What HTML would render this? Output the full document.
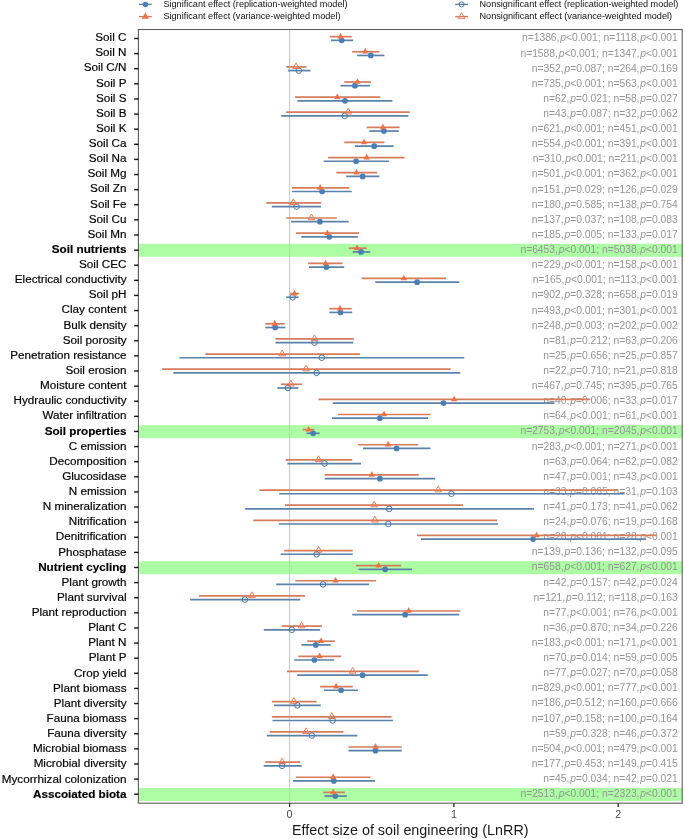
<!DOCTYPE html><html><head><meta charset="utf-8"><title>Forest plot</title><style>html,body{margin:0;padding:0;background:#fff;}svg{display:block;}text{font-family:"Liberation Sans",Arial,sans-serif;}</style></head><body>
<svg width="685" height="839" viewBox="0 0 685 839">
<rect x="0" y="0" width="685" height="839" fill="#fff"/>
<line x1="139.0" y1="4.4" x2="151.8" y2="4.4" stroke="#5A82AA" stroke-width="1.40"/><circle cx="145.4" cy="4.4" r="2.75" fill="#4A7FB6"/>
<line x1="139.0" y1="16.6" x2="151.8" y2="16.6" stroke="#D67C5C" stroke-width="1.40"/><polygon points="145.40,12.50 148.95,18.65 141.85,18.65" fill="#EC7347"/>
<line x1="455.2" y1="4.4" x2="468.0" y2="4.4" stroke="#5A82AA" stroke-width="1.40"/><circle cx="461.6" cy="4.4" r="2.50" fill="none" stroke="#4576A8" stroke-width="0.95"/>
<line x1="455.2" y1="16.6" x2="468.0" y2="16.6" stroke="#D67C5C" stroke-width="1.40"/><polygon points="461.60,12.70 464.98,18.55 458.22,18.55" fill="none" stroke="#EC7347" stroke-width="0.85"/>
<text x="163.4" y="6.8" textLength="184.2" font-size="9.45px" fill="#111111" lengthAdjust="spacingAndGlyphs">Significant effect (replication-weighted model)</text>
<text x="163.4" y="18.8" textLength="177.1" font-size="9.45px" fill="#111111" lengthAdjust="spacingAndGlyphs">Significant effect (variance-weighted model)</text>
<text x="479.5" y="6.8" textLength="198.9" font-size="9.45px" fill="#111111" lengthAdjust="spacingAndGlyphs">Nonsignificant effect (replication-weighted model)</text>
<text x="479.5" y="18.8" textLength="192.6" font-size="9.45px" fill="#111111" lengthAdjust="spacingAndGlyphs">Nonsignificant effect (variance-weighted model)</text>
<rect x="138.4" y="243.80" width="543.8" height="13.00" fill="#ADFDA5"/>
<rect x="138.4" y="425.16" width="543.8" height="13.00" fill="#ADFDA5"/>
<rect x="138.4" y="561.19" width="543.8" height="13.00" fill="#ADFDA5"/>
<rect x="138.4" y="787.90" width="543.8" height="13.00" fill="#ADFDA5"/>
<line x1="289.6" y1="29.5" x2="289.6" y2="803.2" stroke="#C6C6C6" stroke-width="1"/>
<text x="677.8" y="41.45" text-anchor="end" font-size="10.30px" fill="#959595">n=1386,<tspan dx="0.8" font-style="italic">p</tspan>&lt;0.001; n=1118,<tspan dx="0.8" font-style="italic">p</tspan>&lt;0.001</text>
<text x="677.8" y="56.56" text-anchor="end" font-size="10.30px" fill="#959595">n=1588,<tspan dx="0.8" font-style="italic">p</tspan>&lt;0.001; n=1347,<tspan dx="0.8" font-style="italic">p</tspan>&lt;0.001</text>
<text x="677.8" y="71.68" text-anchor="end" font-size="10.30px" fill="#959595">n=352,<tspan dx="0.8" font-style="italic">p</tspan>=0.087; n=264,<tspan dx="0.8" font-style="italic">p</tspan>=0.169</text>
<text x="677.8" y="86.79" text-anchor="end" font-size="10.30px" fill="#959595">n=735,<tspan dx="0.8" font-style="italic">p</tspan>&lt;0.001; n=563,<tspan dx="0.8" font-style="italic">p</tspan>&lt;0.001</text>
<text x="677.8" y="101.91" text-anchor="end" font-size="10.30px" fill="#959595">n=62,<tspan dx="0.8" font-style="italic">p</tspan>=0.021; n=58,<tspan dx="0.8" font-style="italic">p</tspan>=0.027</text>
<text x="677.8" y="117.02" text-anchor="end" font-size="10.30px" fill="#959595">n=43,<tspan dx="0.8" font-style="italic">p</tspan>=0.087; n=32,<tspan dx="0.8" font-style="italic">p</tspan>=0.062</text>
<text x="677.8" y="132.13" text-anchor="end" font-size="10.30px" fill="#959595">n=621,<tspan dx="0.8" font-style="italic">p</tspan>&lt;0.001; n=451,<tspan dx="0.8" font-style="italic">p</tspan>&lt;0.001</text>
<text x="677.8" y="147.25" text-anchor="end" font-size="10.30px" fill="#959595">n=554,<tspan dx="0.8" font-style="italic">p</tspan>&lt;0.001; n=391,<tspan dx="0.8" font-style="italic">p</tspan>&lt;0.001</text>
<text x="677.8" y="162.36" text-anchor="end" font-size="10.30px" fill="#959595">n=310,<tspan dx="0.8" font-style="italic">p</tspan>&lt;0.001; n=211,<tspan dx="0.8" font-style="italic">p</tspan>&lt;0.001</text>
<text x="677.8" y="177.48" text-anchor="end" font-size="10.30px" fill="#959595">n=501,<tspan dx="0.8" font-style="italic">p</tspan>&lt;0.001; n=362,<tspan dx="0.8" font-style="italic">p</tspan>&lt;0.001</text>
<text x="677.8" y="192.59" text-anchor="end" font-size="10.30px" fill="#959595">n=151,<tspan dx="0.8" font-style="italic">p</tspan>=0.029; n=126,<tspan dx="0.8" font-style="italic">p</tspan>=0.029</text>
<text x="677.8" y="207.70" text-anchor="end" font-size="10.30px" fill="#959595">n=180,<tspan dx="0.8" font-style="italic">p</tspan>=0.585; n=138,<tspan dx="0.8" font-style="italic">p</tspan>=0.754</text>
<text x="677.8" y="222.82" text-anchor="end" font-size="10.30px" fill="#959595">n=137,<tspan dx="0.8" font-style="italic">p</tspan>=0.037; n=108,<tspan dx="0.8" font-style="italic">p</tspan>=0.083</text>
<text x="677.8" y="237.93" text-anchor="end" font-size="10.30px" fill="#959595">n=185,<tspan dx="0.8" font-style="italic">p</tspan>=0.005; n=133,<tspan dx="0.8" font-style="italic">p</tspan>=0.017</text>
<text x="677.8" y="253.05" text-anchor="end" font-size="10.30px" fill="#959595">n=6453,<tspan dx="0.8" font-style="italic">p</tspan>&lt;0.001; n=5038,<tspan dx="0.8" font-style="italic">p</tspan>&lt;0.001</text>
<text x="677.8" y="268.16" text-anchor="end" font-size="10.30px" fill="#959595">n=229,<tspan dx="0.8" font-style="italic">p</tspan>&lt;0.001; n=158,<tspan dx="0.8" font-style="italic">p</tspan>&lt;0.001</text>
<text x="677.8" y="283.27" text-anchor="end" font-size="10.30px" fill="#959595">n=165,<tspan dx="0.8" font-style="italic">p</tspan>&lt;0.001; n=113,<tspan dx="0.8" font-style="italic">p</tspan>&lt;0.001</text>
<text x="677.8" y="298.39" text-anchor="end" font-size="10.30px" fill="#959595">n=902,<tspan dx="0.8" font-style="italic">p</tspan>=0.328; n=658,<tspan dx="0.8" font-style="italic">p</tspan>=0.019</text>
<text x="677.8" y="313.50" text-anchor="end" font-size="10.30px" fill="#959595">n=493,<tspan dx="0.8" font-style="italic">p</tspan>&lt;0.001; n=301,<tspan dx="0.8" font-style="italic">p</tspan>&lt;0.001</text>
<text x="677.8" y="328.62" text-anchor="end" font-size="10.30px" fill="#959595">n=248,<tspan dx="0.8" font-style="italic">p</tspan>=0.003; n=202,<tspan dx="0.8" font-style="italic">p</tspan>=0.002</text>
<text x="677.8" y="343.73" text-anchor="end" font-size="10.30px" fill="#959595">n=81,<tspan dx="0.8" font-style="italic">p</tspan>=0.212; n=63,<tspan dx="0.8" font-style="italic">p</tspan>=0.206</text>
<text x="677.8" y="358.84" text-anchor="end" font-size="10.30px" fill="#959595">n=25,<tspan dx="0.8" font-style="italic">p</tspan>=0.656; n=25,<tspan dx="0.8" font-style="italic">p</tspan>=0.857</text>
<text x="677.8" y="373.96" text-anchor="end" font-size="10.30px" fill="#959595">n=22,<tspan dx="0.8" font-style="italic">p</tspan>=0.710; n=21,<tspan dx="0.8" font-style="italic">p</tspan>=0.818</text>
<text x="677.8" y="389.07" text-anchor="end" font-size="10.30px" fill="#959595">n=467,<tspan dx="0.8" font-style="italic">p</tspan>=0.745; n=395,<tspan dx="0.8" font-style="italic">p</tspan>=0.765</text>
<text x="677.8" y="404.19" text-anchor="end" font-size="10.30px" fill="#959595">n=40,<tspan dx="0.8" font-style="italic">p</tspan>=0.006; n=33,<tspan dx="0.8" font-style="italic">p</tspan>=0.017</text>
<text x="677.8" y="419.30" text-anchor="end" font-size="10.30px" fill="#959595">n=64,<tspan dx="0.8" font-style="italic">p</tspan>&lt;0.001; n=61,<tspan dx="0.8" font-style="italic">p</tspan>&lt;0.001</text>
<text x="677.8" y="434.41" text-anchor="end" font-size="10.30px" fill="#959595">n=2753,<tspan dx="0.8" font-style="italic">p</tspan>&lt;0.001; n=2045,<tspan dx="0.8" font-style="italic">p</tspan>&lt;0.001</text>
<text x="677.8" y="449.53" text-anchor="end" font-size="10.30px" fill="#959595">n=283,<tspan dx="0.8" font-style="italic">p</tspan>&lt;0.001; n=271,<tspan dx="0.8" font-style="italic">p</tspan>&lt;0.001</text>
<text x="677.8" y="464.64" text-anchor="end" font-size="10.30px" fill="#959595">n=63,<tspan dx="0.8" font-style="italic">p</tspan>=0.064; n=62,<tspan dx="0.8" font-style="italic">p</tspan>=0.082</text>
<text x="677.8" y="479.76" text-anchor="end" font-size="10.30px" fill="#959595">n=47,<tspan dx="0.8" font-style="italic">p</tspan>=0.001; n=43,<tspan dx="0.8" font-style="italic">p</tspan>&lt;0.001</text>
<text x="677.8" y="494.87" text-anchor="end" font-size="10.30px" fill="#959595">n=33,<tspan dx="0.8" font-style="italic">p</tspan>=0.065; n=31,<tspan dx="0.8" font-style="italic">p</tspan>=0.103</text>
<text x="677.8" y="509.98" text-anchor="end" font-size="10.30px" fill="#959595">n=41,<tspan dx="0.8" font-style="italic">p</tspan>=0.173; n=41,<tspan dx="0.8" font-style="italic">p</tspan>=0.062</text>
<text x="677.8" y="525.10" text-anchor="end" font-size="10.30px" fill="#959595">n=24,<tspan dx="0.8" font-style="italic">p</tspan>=0.076; n=19,<tspan dx="0.8" font-style="italic">p</tspan>=0.168</text>
<text x="677.8" y="540.21" text-anchor="end" font-size="10.30px" fill="#959595">n=28,<tspan dx="0.8" font-style="italic">p</tspan>&lt;0.001; n=28,<tspan dx="0.8" font-style="italic">p</tspan>&lt;0.001</text>
<text x="677.8" y="555.33" text-anchor="end" font-size="10.30px" fill="#959595">n=139,<tspan dx="0.8" font-style="italic">p</tspan>=0.136; n=132,<tspan dx="0.8" font-style="italic">p</tspan>=0.095</text>
<text x="677.8" y="570.44" text-anchor="end" font-size="10.30px" fill="#959595">n=658,<tspan dx="0.8" font-style="italic">p</tspan>&lt;0.001; n=627,<tspan dx="0.8" font-style="italic">p</tspan>&lt;0.001</text>
<text x="677.8" y="585.55" text-anchor="end" font-size="10.30px" fill="#959595">n=42,<tspan dx="0.8" font-style="italic">p</tspan>=0.157; n=42,<tspan dx="0.8" font-style="italic">p</tspan>=0.024</text>
<text x="677.8" y="600.67" text-anchor="end" font-size="10.30px" fill="#959595">n=121,<tspan dx="0.8" font-style="italic">p</tspan>=0.112; n=118,<tspan dx="0.8" font-style="italic">p</tspan>=0.163</text>
<text x="677.8" y="615.78" text-anchor="end" font-size="10.30px" fill="#959595">n=77,<tspan dx="0.8" font-style="italic">p</tspan>&lt;0.001; n=76,<tspan dx="0.8" font-style="italic">p</tspan>&lt;0.001</text>
<text x="677.8" y="630.90" text-anchor="end" font-size="10.30px" fill="#959595">n=36,<tspan dx="0.8" font-style="italic">p</tspan>=0.870; n=34,<tspan dx="0.8" font-style="italic">p</tspan>=0.226</text>
<text x="677.8" y="646.01" text-anchor="end" font-size="10.30px" fill="#959595">n=183,<tspan dx="0.8" font-style="italic">p</tspan>&lt;0.001; n=171,<tspan dx="0.8" font-style="italic">p</tspan>&lt;0.001</text>
<text x="677.8" y="661.12" text-anchor="end" font-size="10.30px" fill="#959595">n=70,<tspan dx="0.8" font-style="italic">p</tspan>=0.014; n=59,<tspan dx="0.8" font-style="italic">p</tspan>=0.005</text>
<text x="677.8" y="676.24" text-anchor="end" font-size="10.30px" fill="#959595">n=77,<tspan dx="0.8" font-style="italic">p</tspan>=0.027; n=70,<tspan dx="0.8" font-style="italic">p</tspan>=0.058</text>
<text x="677.8" y="691.35" text-anchor="end" font-size="10.30px" fill="#959595">n=829,<tspan dx="0.8" font-style="italic">p</tspan>&lt;0.001; n=777,<tspan dx="0.8" font-style="italic">p</tspan>&lt;0.001</text>
<text x="677.8" y="706.47" text-anchor="end" font-size="10.30px" fill="#959595">n=186,<tspan dx="0.8" font-style="italic">p</tspan>=0.512; n=160,<tspan dx="0.8" font-style="italic">p</tspan>=0.666</text>
<text x="677.8" y="721.58" text-anchor="end" font-size="10.30px" fill="#959595">n=107,<tspan dx="0.8" font-style="italic">p</tspan>=0.158; n=100,<tspan dx="0.8" font-style="italic">p</tspan>=0.164</text>
<text x="677.8" y="736.69" text-anchor="end" font-size="10.30px" fill="#959595">n=59,<tspan dx="0.8" font-style="italic">p</tspan>=0.328; n=46,<tspan dx="0.8" font-style="italic">p</tspan>=0.372</text>
<text x="677.8" y="751.81" text-anchor="end" font-size="10.30px" fill="#959595">n=504,<tspan dx="0.8" font-style="italic">p</tspan>&lt;0.001; n=479,<tspan dx="0.8" font-style="italic">p</tspan>&lt;0.001</text>
<text x="677.8" y="766.92" text-anchor="end" font-size="10.30px" fill="#959595">n=177,<tspan dx="0.8" font-style="italic">p</tspan>=0.453; n=149,<tspan dx="0.8" font-style="italic">p</tspan>=0.415</text>
<text x="677.8" y="782.04" text-anchor="end" font-size="10.30px" fill="#959595">n=45,<tspan dx="0.8" font-style="italic">p</tspan>=0.034; n=42,<tspan dx="0.8" font-style="italic">p</tspan>=0.021</text>
<text x="677.8" y="797.15" text-anchor="end" font-size="10.30px" fill="#959595">n=2513,<tspan dx="0.8" font-style="italic">p</tspan>&lt;0.001; n=2323,<tspan dx="0.8" font-style="italic">p</tspan>&lt;0.001</text>
<line x1="331.0" y1="40.35" x2="353.2" y2="40.35" stroke="#5A82AA" stroke-width="1.70"/>
<line x1="357.1" y1="55.46" x2="384.4" y2="55.46" stroke="#5A82AA" stroke-width="1.70"/>
<line x1="287.9" y1="70.58" x2="310.5" y2="70.58" stroke="#5A82AA" stroke-width="1.70"/>
<line x1="340.5" y1="85.69" x2="370.0" y2="85.69" stroke="#5A82AA" stroke-width="1.70"/>
<line x1="297.6" y1="100.81" x2="392.4" y2="100.81" stroke="#5A82AA" stroke-width="1.70"/>
<line x1="281.2" y1="115.92" x2="408.4" y2="115.92" stroke="#5A82AA" stroke-width="1.70"/>
<line x1="369.3" y1="131.03" x2="398.8" y2="131.03" stroke="#5A82AA" stroke-width="1.70"/>
<line x1="354.9" y1="146.15" x2="393.6" y2="146.15" stroke="#5A82AA" stroke-width="1.70"/>
<line x1="323.6" y1="161.26" x2="388.9" y2="161.26" stroke="#5A82AA" stroke-width="1.70"/>
<line x1="346.2" y1="176.38" x2="379.5" y2="176.38" stroke="#5A82AA" stroke-width="1.70"/>
<line x1="292.1" y1="191.49" x2="351.7" y2="191.49" stroke="#5A82AA" stroke-width="1.70"/>
<line x1="271.8" y1="206.60" x2="321.1" y2="206.60" stroke="#5A82AA" stroke-width="1.70"/>
<line x1="291.1" y1="221.72" x2="348.7" y2="221.72" stroke="#5A82AA" stroke-width="1.70"/>
<line x1="301.3" y1="236.83" x2="357.9" y2="236.83" stroke="#5A82AA" stroke-width="1.70"/>
<line x1="352.9" y1="251.95" x2="370.3" y2="251.95" stroke="#5A82AA" stroke-width="1.70"/>
<line x1="309.0" y1="267.06" x2="344.2" y2="267.06" stroke="#5A82AA" stroke-width="1.70"/>
<line x1="375.2" y1="282.17" x2="459.3" y2="282.17" stroke="#5A82AA" stroke-width="1.70"/>
<line x1="286.2" y1="297.29" x2="298.6" y2="297.29" stroke="#5A82AA" stroke-width="1.70"/>
<line x1="329.3" y1="312.40" x2="352.2" y2="312.40" stroke="#5A82AA" stroke-width="1.70"/>
<line x1="265.3" y1="327.52" x2="285.4" y2="327.52" stroke="#5A82AA" stroke-width="1.70"/>
<line x1="275.5" y1="342.63" x2="353.3" y2="342.63" stroke="#5A82AA" stroke-width="1.70"/>
<line x1="179.4" y1="357.74" x2="464.2" y2="357.74" stroke="#5A82AA" stroke-width="1.70"/>
<line x1="173.4" y1="372.86" x2="460.3" y2="372.86" stroke="#5A82AA" stroke-width="1.70"/>
<line x1="277.3" y1="387.97" x2="298.4" y2="387.97" stroke="#5A82AA" stroke-width="1.70"/>
<line x1="332.8" y1="403.09" x2="554.5" y2="403.09" stroke="#5A82AA" stroke-width="1.70"/>
<line x1="332.1" y1="418.20" x2="428.0" y2="418.20" stroke="#5A82AA" stroke-width="1.70"/>
<line x1="306.6" y1="433.31" x2="319.7" y2="433.31" stroke="#5A82AA" stroke-width="1.70"/>
<line x1="363.0" y1="448.43" x2="430.4" y2="448.43" stroke="#5A82AA" stroke-width="1.70"/>
<line x1="287.4" y1="463.54" x2="361.0" y2="463.54" stroke="#5A82AA" stroke-width="1.70"/>
<line x1="324.7" y1="478.66" x2="435.1" y2="478.66" stroke="#5A82AA" stroke-width="1.70"/>
<line x1="279.2" y1="493.77" x2="624.5" y2="493.77" stroke="#5A82AA" stroke-width="1.70"/>
<line x1="245.2" y1="508.88" x2="534.0" y2="508.88" stroke="#5A82AA" stroke-width="1.70"/>
<line x1="278.9" y1="524.00" x2="498.0" y2="524.00" stroke="#5A82AA" stroke-width="1.70"/>
<line x1="420.9" y1="539.11" x2="646.0" y2="539.11" stroke="#5A82AA" stroke-width="1.70"/>
<line x1="280.7" y1="554.23" x2="352.8" y2="554.23" stroke="#5A82AA" stroke-width="1.70"/>
<line x1="358.6" y1="569.34" x2="412.0" y2="569.34" stroke="#5A82AA" stroke-width="1.70"/>
<line x1="276.3" y1="584.45" x2="369.1" y2="584.45" stroke="#5A82AA" stroke-width="1.70"/>
<line x1="190.1" y1="599.57" x2="300.3" y2="599.57" stroke="#5A82AA" stroke-width="1.70"/>
<line x1="352.3" y1="614.68" x2="459.2" y2="614.68" stroke="#5A82AA" stroke-width="1.70"/>
<line x1="263.8" y1="629.80" x2="320.1" y2="629.80" stroke="#5A82AA" stroke-width="1.70"/>
<line x1="301.5" y1="644.91" x2="330.7" y2="644.91" stroke="#5A82AA" stroke-width="1.70"/>
<line x1="294.2" y1="660.02" x2="334.2" y2="660.02" stroke="#5A82AA" stroke-width="1.70"/>
<line x1="297.2" y1="675.14" x2="427.7" y2="675.14" stroke="#5A82AA" stroke-width="1.70"/>
<line x1="323.9" y1="690.25" x2="358.0" y2="690.25" stroke="#5A82AA" stroke-width="1.70"/>
<line x1="273.9" y1="705.37" x2="320.7" y2="705.37" stroke="#5A82AA" stroke-width="1.70"/>
<line x1="272.5" y1="720.48" x2="393.1" y2="720.48" stroke="#5A82AA" stroke-width="1.70"/>
<line x1="266.9" y1="735.59" x2="357.4" y2="735.59" stroke="#5A82AA" stroke-width="1.70"/>
<line x1="348.4" y1="750.71" x2="401.8" y2="750.71" stroke="#5A82AA" stroke-width="1.70"/>
<line x1="263.7" y1="765.82" x2="301.7" y2="765.82" stroke="#5A82AA" stroke-width="1.70"/>
<line x1="292.9" y1="780.94" x2="375.0" y2="780.94" stroke="#5A82AA" stroke-width="1.70"/>
<line x1="324.5" y1="796.05" x2="346.9" y2="796.05" stroke="#5A82AA" stroke-width="1.70"/>
<line x1="329.8" y1="36.65" x2="351.7" y2="36.65" stroke="#D67C5C" stroke-width="1.70"/>
<line x1="352.2" y1="51.76" x2="379.5" y2="51.76" stroke="#D67C5C" stroke-width="1.70"/>
<line x1="286.2" y1="66.88" x2="306.5" y2="66.88" stroke="#D67C5C" stroke-width="1.70"/>
<line x1="344.2" y1="81.99" x2="371.0" y2="81.99" stroke="#D67C5C" stroke-width="1.70"/>
<line x1="295.1" y1="97.11" x2="380.4" y2="97.11" stroke="#D67C5C" stroke-width="1.70"/>
<line x1="286.2" y1="112.22" x2="409.8" y2="112.22" stroke="#D67C5C" stroke-width="1.70"/>
<line x1="366.6" y1="127.33" x2="399.6" y2="127.33" stroke="#D67C5C" stroke-width="1.70"/>
<line x1="344.2" y1="142.45" x2="384.4" y2="142.45" stroke="#D67C5C" stroke-width="1.70"/>
<line x1="328.1" y1="157.56" x2="404.5" y2="157.56" stroke="#D67C5C" stroke-width="1.70"/>
<line x1="336.3" y1="172.68" x2="377.2" y2="172.68" stroke="#D67C5C" stroke-width="1.70"/>
<line x1="292.1" y1="187.79" x2="349.2" y2="187.79" stroke="#D67C5C" stroke-width="1.70"/>
<line x1="266.3" y1="202.90" x2="321.4" y2="202.90" stroke="#D67C5C" stroke-width="1.70"/>
<line x1="286.2" y1="218.02" x2="336.8" y2="218.02" stroke="#D67C5C" stroke-width="1.70"/>
<line x1="296.1" y1="233.13" x2="359.1" y2="233.13" stroke="#D67C5C" stroke-width="1.70"/>
<line x1="348.7" y1="248.25" x2="366.6" y2="248.25" stroke="#D67C5C" stroke-width="1.70"/>
<line x1="308.2" y1="263.36" x2="342.5" y2="263.36" stroke="#D67C5C" stroke-width="1.70"/>
<line x1="361.6" y1="278.47" x2="446.0" y2="278.47" stroke="#D67C5C" stroke-width="1.70"/>
<line x1="290.1" y1="293.59" x2="299.2" y2="293.59" stroke="#D67C5C" stroke-width="1.70"/>
<line x1="329.3" y1="308.70" x2="351.7" y2="308.70" stroke="#D67C5C" stroke-width="1.70"/>
<line x1="265.3" y1="323.82" x2="284.7" y2="323.82" stroke="#D67C5C" stroke-width="1.70"/>
<line x1="275.5" y1="338.93" x2="353.9" y2="338.93" stroke="#D67C5C" stroke-width="1.70"/>
<line x1="205.4" y1="354.04" x2="359.9" y2="354.04" stroke="#D67C5C" stroke-width="1.70"/>
<line x1="162.1" y1="369.16" x2="450.6" y2="369.16" stroke="#D67C5C" stroke-width="1.70"/>
<line x1="280.8" y1="384.27" x2="301.9" y2="384.27" stroke="#D67C5C" stroke-width="1.70"/>
<line x1="318.4" y1="399.39" x2="590.1" y2="399.39" stroke="#D67C5C" stroke-width="1.70"/>
<line x1="338.1" y1="414.50" x2="430.6" y2="414.50" stroke="#D67C5C" stroke-width="1.70"/>
<line x1="302.6" y1="429.61" x2="314.5" y2="429.61" stroke="#D67C5C" stroke-width="1.70"/>
<line x1="358.0" y1="444.73" x2="418.2" y2="444.73" stroke="#D67C5C" stroke-width="1.70"/>
<line x1="285.6" y1="459.84" x2="352.2" y2="459.84" stroke="#D67C5C" stroke-width="1.70"/>
<line x1="324.7" y1="474.96" x2="418.8" y2="474.96" stroke="#D67C5C" stroke-width="1.70"/>
<line x1="259.3" y1="490.07" x2="618.0" y2="490.07" stroke="#D67C5C" stroke-width="1.70"/>
<line x1="285.0" y1="505.18" x2="463.0" y2="505.18" stroke="#D67C5C" stroke-width="1.70"/>
<line x1="253.2" y1="520.30" x2="497.1" y2="520.30" stroke="#D67C5C" stroke-width="1.70"/>
<line x1="417.0" y1="535.41" x2="656.7" y2="535.41" stroke="#D67C5C" stroke-width="1.70"/>
<line x1="284.2" y1="550.53" x2="352.8" y2="550.53" stroke="#D67C5C" stroke-width="1.70"/>
<line x1="356.0" y1="565.64" x2="401.2" y2="565.64" stroke="#D67C5C" stroke-width="1.70"/>
<line x1="295.3" y1="580.75" x2="376.1" y2="580.75" stroke="#D67C5C" stroke-width="1.70"/>
<line x1="199.1" y1="595.87" x2="305.2" y2="595.87" stroke="#D67C5C" stroke-width="1.70"/>
<line x1="357.0" y1="610.98" x2="460.4" y2="610.98" stroke="#D67C5C" stroke-width="1.70"/>
<line x1="281.8" y1="626.10" x2="322.0" y2="626.10" stroke="#D67C5C" stroke-width="1.70"/>
<line x1="307.1" y1="641.21" x2="334.8" y2="641.21" stroke="#D67C5C" stroke-width="1.70"/>
<line x1="298.3" y1="656.32" x2="341.2" y2="656.32" stroke="#D67C5C" stroke-width="1.70"/>
<line x1="286.9" y1="671.44" x2="418.9" y2="671.44" stroke="#D67C5C" stroke-width="1.70"/>
<line x1="320.1" y1="686.55" x2="352.8" y2="686.55" stroke="#D67C5C" stroke-width="1.70"/>
<line x1="271.9" y1="701.67" x2="316.6" y2="701.67" stroke="#D67C5C" stroke-width="1.70"/>
<line x1="271.9" y1="716.78" x2="391.6" y2="716.78" stroke="#D67C5C" stroke-width="1.70"/>
<line x1="269.6" y1="731.89" x2="343.4" y2="731.89" stroke="#D67C5C" stroke-width="1.70"/>
<line x1="348.4" y1="747.01" x2="401.8" y2="747.01" stroke="#D67C5C" stroke-width="1.70"/>
<line x1="265.2" y1="762.12" x2="300.2" y2="762.12" stroke="#D67C5C" stroke-width="1.70"/>
<line x1="295.8" y1="777.24" x2="370.6" y2="777.24" stroke="#D67C5C" stroke-width="1.70"/>
<line x1="323.0" y1="792.35" x2="344.9" y2="792.35" stroke="#D67C5C" stroke-width="1.70"/>
<circle cx="341.7" cy="40.35" r="2.85" fill="#4A7FB6"/>
<circle cx="370.8" cy="55.46" r="2.85" fill="#4A7FB6"/>
<circle cx="298.8" cy="70.58" r="2.80" fill="none" stroke="#4576A8" stroke-width="1.0"/>
<circle cx="354.9" cy="85.69" r="2.85" fill="#4A7FB6"/>
<circle cx="345.0" cy="100.81" r="2.85" fill="#4A7FB6"/>
<circle cx="344.7" cy="115.92" r="2.80" fill="none" stroke="#4576A8" stroke-width="1.0"/>
<circle cx="383.9" cy="131.03" r="2.85" fill="#4A7FB6"/>
<circle cx="374.2" cy="146.15" r="2.85" fill="#4A7FB6"/>
<circle cx="356.1" cy="161.26" r="2.85" fill="#4A7FB6"/>
<circle cx="362.6" cy="176.38" r="2.85" fill="#4A7FB6"/>
<circle cx="322.1" cy="191.49" r="2.85" fill="#4A7FB6"/>
<circle cx="296.6" cy="206.60" r="2.80" fill="none" stroke="#4576A8" stroke-width="1.0"/>
<circle cx="319.9" cy="221.72" r="2.85" fill="#4A7FB6"/>
<circle cx="329.3" cy="236.83" r="2.85" fill="#4A7FB6"/>
<circle cx="361.1" cy="251.95" r="2.85" fill="#4A7FB6"/>
<circle cx="326.4" cy="267.06" r="2.85" fill="#4A7FB6"/>
<circle cx="417.1" cy="282.17" r="2.85" fill="#4A7FB6"/>
<circle cx="292.6" cy="297.29" r="2.80" fill="none" stroke="#4576A8" stroke-width="1.0"/>
<circle cx="340.5" cy="312.40" r="2.85" fill="#4A7FB6"/>
<circle cx="275.2" cy="327.52" r="2.85" fill="#4A7FB6"/>
<circle cx="314.5" cy="342.63" r="2.80" fill="none" stroke="#4576A8" stroke-width="1.0"/>
<circle cx="321.8" cy="357.74" r="2.80" fill="none" stroke="#4576A8" stroke-width="1.0"/>
<circle cx="316.6" cy="372.86" r="2.80" fill="none" stroke="#4576A8" stroke-width="1.0"/>
<circle cx="287.9" cy="387.97" r="2.80" fill="none" stroke="#4576A8" stroke-width="1.0"/>
<circle cx="443.5" cy="403.09" r="2.85" fill="#4A7FB6"/>
<circle cx="379.9" cy="418.20" r="2.85" fill="#4A7FB6"/>
<circle cx="313.1" cy="433.31" r="2.85" fill="#4A7FB6"/>
<circle cx="396.6" cy="448.43" r="2.85" fill="#4A7FB6"/>
<circle cx="324.5" cy="463.54" r="2.80" fill="none" stroke="#4576A8" stroke-width="1.0"/>
<circle cx="379.9" cy="478.66" r="2.85" fill="#4A7FB6"/>
<circle cx="451.5" cy="493.77" r="2.80" fill="none" stroke="#4576A8" stroke-width="1.0"/>
<circle cx="389.2" cy="508.88" r="2.80" fill="none" stroke="#4576A8" stroke-width="1.0"/>
<circle cx="388.2" cy="524.00" r="2.80" fill="none" stroke="#4576A8" stroke-width="1.0"/>
<circle cx="533.0" cy="539.11" r="2.85" fill="#4A7FB6"/>
<circle cx="316.6" cy="554.23" r="2.80" fill="none" stroke="#4576A8" stroke-width="1.0"/>
<circle cx="385.2" cy="569.34" r="2.85" fill="#4A7FB6"/>
<circle cx="323.0" cy="584.45" r="2.80" fill="none" stroke="#4576A8" stroke-width="1.0"/>
<circle cx="244.9" cy="599.57" r="2.80" fill="none" stroke="#4576A8" stroke-width="1.0"/>
<circle cx="405.2" cy="614.68" r="2.85" fill="#4A7FB6"/>
<circle cx="291.9" cy="629.80" r="2.80" fill="none" stroke="#4576A8" stroke-width="1.0"/>
<circle cx="315.8" cy="644.91" r="2.85" fill="#4A7FB6"/>
<circle cx="314.4" cy="660.02" r="2.85" fill="#4A7FB6"/>
<circle cx="362.6" cy="675.14" r="2.85" fill="#4A7FB6"/>
<circle cx="341.1" cy="690.25" r="2.85" fill="#4A7FB6"/>
<circle cx="297.3" cy="705.37" r="2.80" fill="none" stroke="#4576A8" stroke-width="1.0"/>
<circle cx="332.6" cy="720.48" r="2.80" fill="none" stroke="#4576A8" stroke-width="1.0"/>
<circle cx="311.9" cy="735.59" r="2.80" fill="none" stroke="#4576A8" stroke-width="1.0"/>
<circle cx="375.5" cy="750.71" r="2.85" fill="#4A7FB6"/>
<circle cx="282.1" cy="765.82" r="2.80" fill="none" stroke="#4576A8" stroke-width="1.0"/>
<circle cx="333.8" cy="780.94" r="2.85" fill="#4A7FB6"/>
<circle cx="335.3" cy="796.05" r="2.85" fill="#4A7FB6"/>
<polygon points="340.50,32.95 343.70,38.50 337.30,38.50" fill="#EC7347"/>
<polygon points="365.30,48.06 368.50,53.61 362.10,53.61" fill="#EC7347"/>
<polygon points="296.10,62.88 299.39,68.58 292.81,68.58" fill="none" stroke="#EC7347" stroke-width="0.95"/>
<polygon points="357.40,78.29 360.60,83.84 354.20,83.84" fill="#EC7347"/>
<polygon points="337.30,93.41 340.50,98.96 334.10,98.96" fill="#EC7347"/>
<polygon points="348.20,108.22 351.49,113.92 344.91,113.92" fill="none" stroke="#EC7347" stroke-width="0.95"/>
<polygon points="382.90,123.63 386.10,129.18 379.70,129.18" fill="#EC7347"/>
<polygon points="364.10,138.75 367.30,144.30 360.90,144.30" fill="#EC7347"/>
<polygon points="366.60,153.86 369.80,159.41 363.40,159.41" fill="#EC7347"/>
<polygon points="356.60,168.98 359.80,174.53 353.40,174.53" fill="#EC7347"/>
<polygon points="320.10,184.09 323.30,189.64 316.90,189.64" fill="#EC7347"/>
<polygon points="293.30,198.90 296.59,204.60 290.01,204.60" fill="none" stroke="#EC7347" stroke-width="0.95"/>
<polygon points="311.50,214.02 314.79,219.72 308.21,219.72" fill="none" stroke="#EC7347" stroke-width="0.95"/>
<polygon points="327.30,229.43 330.50,234.98 324.10,234.98" fill="#EC7347"/>
<polygon points="357.10,244.55 360.30,250.10 353.90,250.10" fill="#EC7347"/>
<polygon points="325.60,259.66 328.80,265.21 322.40,265.21" fill="#EC7347"/>
<polygon points="403.80,274.77 407.00,280.32 400.60,280.32" fill="#EC7347"/>
<polygon points="294.50,289.89 297.70,295.44 291.30,295.44" fill="#EC7347"/>
<polygon points="340.00,305.00 343.20,310.55 336.80,310.55" fill="#EC7347"/>
<polygon points="274.70,320.12 277.90,325.67 271.50,325.67" fill="#EC7347"/>
<polygon points="314.50,334.93 317.79,340.63 311.21,340.63" fill="none" stroke="#EC7347" stroke-width="0.95"/>
<polygon points="282.20,350.04 285.49,355.74 278.91,355.74" fill="none" stroke="#EC7347" stroke-width="0.95"/>
<polygon points="306.00,365.16 309.29,370.86 302.71,370.86" fill="none" stroke="#EC7347" stroke-width="0.95"/>
<polygon points="290.90,380.27 294.19,385.97 287.61,385.97" fill="none" stroke="#EC7347" stroke-width="0.95"/>
<polygon points="454.20,395.69 457.40,401.24 451.00,401.24" fill="#EC7347"/>
<polygon points="384.10,410.80 387.30,416.35 380.90,416.35" fill="#EC7347"/>
<polygon points="308.70,425.91 311.90,431.46 305.50,431.46" fill="#EC7347"/>
<polygon points="388.10,441.03 391.30,446.58 384.90,446.58" fill="#EC7347"/>
<polygon points="318.60,455.84 321.89,461.54 315.31,461.54" fill="none" stroke="#EC7347" stroke-width="0.95"/>
<polygon points="371.80,471.26 375.00,476.81 368.60,476.81" fill="#EC7347"/>
<polygon points="438.30,486.07 441.59,491.77 435.01,491.77" fill="none" stroke="#EC7347" stroke-width="0.95"/>
<polygon points="374.20,501.18 377.49,506.88 370.91,506.88" fill="none" stroke="#EC7347" stroke-width="0.95"/>
<polygon points="374.90,516.30 378.19,522.00 371.61,522.00" fill="none" stroke="#EC7347" stroke-width="0.95"/>
<polygon points="536.60,531.71 539.80,537.26 533.40,537.26" fill="#EC7347"/>
<polygon points="318.60,546.53 321.89,552.23 315.31,552.23" fill="none" stroke="#EC7347" stroke-width="0.95"/>
<polygon points="378.50,561.94 381.70,567.49 375.30,567.49" fill="#EC7347"/>
<polygon points="335.50,577.05 338.70,582.60 332.30,582.60" fill="#EC7347"/>
<polygon points="251.90,591.87 255.19,597.57 248.61,597.57" fill="none" stroke="#EC7347" stroke-width="0.95"/>
<polygon points="408.70,607.28 411.90,612.83 405.50,612.83" fill="#EC7347"/>
<polygon points="301.60,622.10 304.89,627.80 298.31,627.80" fill="none" stroke="#EC7347" stroke-width="0.95"/>
<polygon points="321.10,637.51 324.30,643.06 317.90,643.06" fill="#EC7347"/>
<polygon points="319.60,652.62 322.80,658.17 316.40,658.17" fill="#EC7347"/>
<polygon points="352.60,667.44 355.89,673.14 349.31,673.14" fill="none" stroke="#EC7347" stroke-width="0.95"/>
<polygon points="336.10,682.85 339.30,688.40 332.90,688.40" fill="#EC7347"/>
<polygon points="293.80,697.67 297.09,703.37 290.51,703.37" fill="none" stroke="#EC7347" stroke-width="0.95"/>
<polygon points="331.80,712.78 335.09,718.48 328.51,718.48" fill="none" stroke="#EC7347" stroke-width="0.95"/>
<polygon points="306.10,727.89 309.39,733.59 302.81,733.59" fill="none" stroke="#EC7347" stroke-width="0.95"/>
<polygon points="375.50,743.31 378.70,748.86 372.30,748.86" fill="#EC7347"/>
<polygon points="282.10,758.12 285.39,763.82 278.81,763.82" fill="none" stroke="#EC7347" stroke-width="0.95"/>
<polygon points="333.20,773.54 336.40,779.09 330.00,779.09" fill="#EC7347"/>
<polygon points="333.20,788.65 336.40,794.20 330.00,794.20" fill="#EC7347"/>
<rect x="138.4" y="29.5" width="543.8" height="773.7" fill="none" stroke="#5C5C5C" stroke-width="1.1"/>
<line x1="134.2" y1="38.50" x2="138.4" y2="38.50" stroke="#111" stroke-width="1.4"/>
<text x="126.5" y="41.15" text-anchor="end" font-size="11.70px" fill="#000000" stroke="#000000" stroke-width="0.18">Soil C</text>
<line x1="134.2" y1="53.61" x2="138.4" y2="53.61" stroke="#111" stroke-width="1.4"/>
<text x="126.5" y="56.28" text-anchor="end" font-size="11.70px" fill="#000000" stroke="#000000" stroke-width="0.18">Soil N</text>
<line x1="134.2" y1="68.73" x2="138.4" y2="68.73" stroke="#111" stroke-width="1.4"/>
<text x="126.5" y="71.41" text-anchor="end" font-size="11.70px" fill="#000000" stroke="#000000" stroke-width="0.18">Soil C/N</text>
<line x1="134.2" y1="83.84" x2="138.4" y2="83.84" stroke="#111" stroke-width="1.4"/>
<text x="126.5" y="86.54" text-anchor="end" font-size="11.70px" fill="#000000" stroke="#000000" stroke-width="0.18">Soil P</text>
<line x1="134.2" y1="98.96" x2="138.4" y2="98.96" stroke="#111" stroke-width="1.4"/>
<text x="126.5" y="101.67" text-anchor="end" font-size="11.70px" fill="#000000" stroke="#000000" stroke-width="0.18">Soil S</text>
<line x1="134.2" y1="114.07" x2="138.4" y2="114.07" stroke="#111" stroke-width="1.4"/>
<text x="126.5" y="116.80" text-anchor="end" font-size="11.70px" fill="#000000" stroke="#000000" stroke-width="0.18">Soil B</text>
<line x1="134.2" y1="129.18" x2="138.4" y2="129.18" stroke="#111" stroke-width="1.4"/>
<text x="126.5" y="131.93" text-anchor="end" font-size="11.70px" fill="#000000" stroke="#000000" stroke-width="0.18">Soil K</text>
<line x1="134.2" y1="144.30" x2="138.4" y2="144.30" stroke="#111" stroke-width="1.4"/>
<text x="126.5" y="147.06" text-anchor="end" font-size="11.70px" fill="#000000" stroke="#000000" stroke-width="0.18">Soil Ca</text>
<line x1="134.2" y1="159.41" x2="138.4" y2="159.41" stroke="#111" stroke-width="1.4"/>
<text x="126.5" y="162.19" text-anchor="end" font-size="11.70px" fill="#000000" stroke="#000000" stroke-width="0.18">Soil Na</text>
<line x1="134.2" y1="174.53" x2="138.4" y2="174.53" stroke="#111" stroke-width="1.4"/>
<text x="126.5" y="177.32" text-anchor="end" font-size="11.70px" fill="#000000" stroke="#000000" stroke-width="0.18">Soil Mg</text>
<line x1="134.2" y1="189.64" x2="138.4" y2="189.64" stroke="#111" stroke-width="1.4"/>
<text x="126.5" y="192.45" text-anchor="end" font-size="11.70px" fill="#000000" stroke="#000000" stroke-width="0.18">Soil Zn</text>
<line x1="134.2" y1="204.75" x2="138.4" y2="204.75" stroke="#111" stroke-width="1.4"/>
<text x="126.5" y="207.58" text-anchor="end" font-size="11.70px" fill="#000000" stroke="#000000" stroke-width="0.18">Soil Fe</text>
<line x1="134.2" y1="219.87" x2="138.4" y2="219.87" stroke="#111" stroke-width="1.4"/>
<text x="126.5" y="222.71" text-anchor="end" font-size="11.70px" fill="#000000" stroke="#000000" stroke-width="0.18">Soil Cu</text>
<line x1="134.2" y1="234.98" x2="138.4" y2="234.98" stroke="#111" stroke-width="1.4"/>
<text x="126.5" y="237.84" text-anchor="end" font-size="11.70px" fill="#000000" stroke="#000000" stroke-width="0.18">Soil Mn</text>
<line x1="134.2" y1="250.10" x2="138.4" y2="250.10" stroke="#111" stroke-width="1.4"/>
<text x="126.5" y="252.97" text-anchor="end" font-size="11.70px" fill="#000000" stroke="#000000" stroke-width="0.18" font-weight="bold">Soil nutrients</text>
<line x1="134.2" y1="265.21" x2="138.4" y2="265.21" stroke="#111" stroke-width="1.4"/>
<text x="126.5" y="268.10" text-anchor="end" font-size="11.70px" fill="#000000" stroke="#000000" stroke-width="0.18">Soil CEC</text>
<line x1="134.2" y1="280.32" x2="138.4" y2="280.32" stroke="#111" stroke-width="1.4"/>
<text x="126.5" y="283.23" text-anchor="end" font-size="11.70px" fill="#000000" stroke="#000000" stroke-width="0.18">Electrical conductivity</text>
<line x1="134.2" y1="295.44" x2="138.4" y2="295.44" stroke="#111" stroke-width="1.4"/>
<text x="126.5" y="298.36" text-anchor="end" font-size="11.70px" fill="#000000" stroke="#000000" stroke-width="0.18">Soil pH</text>
<line x1="134.2" y1="310.55" x2="138.4" y2="310.55" stroke="#111" stroke-width="1.4"/>
<text x="126.5" y="313.49" text-anchor="end" font-size="11.70px" fill="#000000" stroke="#000000" stroke-width="0.18">Clay content</text>
<line x1="134.2" y1="325.67" x2="138.4" y2="325.67" stroke="#111" stroke-width="1.4"/>
<text x="126.5" y="328.62" text-anchor="end" font-size="11.70px" fill="#000000" stroke="#000000" stroke-width="0.18">Bulk density</text>
<line x1="134.2" y1="340.78" x2="138.4" y2="340.78" stroke="#111" stroke-width="1.4"/>
<text x="126.5" y="343.75" text-anchor="end" font-size="11.70px" fill="#000000" stroke="#000000" stroke-width="0.18">Soil porosity</text>
<line x1="134.2" y1="355.89" x2="138.4" y2="355.89" stroke="#111" stroke-width="1.4"/>
<text x="126.5" y="358.88" text-anchor="end" font-size="11.70px" fill="#000000" stroke="#000000" stroke-width="0.18">Penetration resistance</text>
<line x1="134.2" y1="371.01" x2="138.4" y2="371.01" stroke="#111" stroke-width="1.4"/>
<text x="126.5" y="374.01" text-anchor="end" font-size="11.70px" fill="#000000" stroke="#000000" stroke-width="0.18">Soil erosion</text>
<line x1="134.2" y1="386.12" x2="138.4" y2="386.12" stroke="#111" stroke-width="1.4"/>
<text x="126.5" y="389.14" text-anchor="end" font-size="11.70px" fill="#000000" stroke="#000000" stroke-width="0.18">Moisture content</text>
<line x1="134.2" y1="401.24" x2="138.4" y2="401.24" stroke="#111" stroke-width="1.4"/>
<text x="126.5" y="404.27" text-anchor="end" font-size="11.70px" fill="#000000" stroke="#000000" stroke-width="0.18">Hydraulic conductivity</text>
<line x1="134.2" y1="416.35" x2="138.4" y2="416.35" stroke="#111" stroke-width="1.4"/>
<text x="126.5" y="419.40" text-anchor="end" font-size="11.70px" fill="#000000" stroke="#000000" stroke-width="0.18">Water infiltration</text>
<line x1="134.2" y1="431.46" x2="138.4" y2="431.46" stroke="#111" stroke-width="1.4"/>
<text x="126.5" y="434.53" text-anchor="end" font-size="11.70px" fill="#000000" stroke="#000000" stroke-width="0.18" font-weight="bold">Soil properties</text>
<line x1="134.2" y1="446.58" x2="138.4" y2="446.58" stroke="#111" stroke-width="1.4"/>
<text x="126.5" y="449.66" text-anchor="end" font-size="11.70px" fill="#000000" stroke="#000000" stroke-width="0.18">C emission</text>
<line x1="134.2" y1="461.69" x2="138.4" y2="461.69" stroke="#111" stroke-width="1.4"/>
<text x="126.5" y="464.79" text-anchor="end" font-size="11.70px" fill="#000000" stroke="#000000" stroke-width="0.18">Decomposition</text>
<line x1="134.2" y1="476.81" x2="138.4" y2="476.81" stroke="#111" stroke-width="1.4"/>
<text x="126.5" y="479.92" text-anchor="end" font-size="11.70px" fill="#000000" stroke="#000000" stroke-width="0.18">Glucosidase</text>
<line x1="134.2" y1="491.92" x2="138.4" y2="491.92" stroke="#111" stroke-width="1.4"/>
<text x="126.5" y="495.05" text-anchor="end" font-size="11.70px" fill="#000000" stroke="#000000" stroke-width="0.18">N emission</text>
<line x1="134.2" y1="507.03" x2="138.4" y2="507.03" stroke="#111" stroke-width="1.4"/>
<text x="126.5" y="510.18" text-anchor="end" font-size="11.70px" fill="#000000" stroke="#000000" stroke-width="0.18">N mineralization</text>
<line x1="134.2" y1="522.15" x2="138.4" y2="522.15" stroke="#111" stroke-width="1.4"/>
<text x="126.5" y="525.31" text-anchor="end" font-size="11.70px" fill="#000000" stroke="#000000" stroke-width="0.18">Nitrification</text>
<line x1="134.2" y1="537.26" x2="138.4" y2="537.26" stroke="#111" stroke-width="1.4"/>
<text x="126.5" y="540.44" text-anchor="end" font-size="11.70px" fill="#000000" stroke="#000000" stroke-width="0.18">Denitrification</text>
<line x1="134.2" y1="552.38" x2="138.4" y2="552.38" stroke="#111" stroke-width="1.4"/>
<text x="126.5" y="555.57" text-anchor="end" font-size="11.70px" fill="#000000" stroke="#000000" stroke-width="0.18">Phosphatase</text>
<line x1="134.2" y1="567.49" x2="138.4" y2="567.49" stroke="#111" stroke-width="1.4"/>
<text x="126.5" y="570.70" text-anchor="end" font-size="11.70px" fill="#000000" stroke="#000000" stroke-width="0.18" font-weight="bold">Nutrient cycling</text>
<line x1="134.2" y1="582.60" x2="138.4" y2="582.60" stroke="#111" stroke-width="1.4"/>
<text x="126.5" y="585.83" text-anchor="end" font-size="11.70px" fill="#000000" stroke="#000000" stroke-width="0.18">Plant growth</text>
<line x1="134.2" y1="597.72" x2="138.4" y2="597.72" stroke="#111" stroke-width="1.4"/>
<text x="126.5" y="600.96" text-anchor="end" font-size="11.70px" fill="#000000" stroke="#000000" stroke-width="0.18">Plant survival</text>
<line x1="134.2" y1="612.83" x2="138.4" y2="612.83" stroke="#111" stroke-width="1.4"/>
<text x="126.5" y="616.09" text-anchor="end" font-size="11.70px" fill="#000000" stroke="#000000" stroke-width="0.18">Plant reproduction</text>
<line x1="134.2" y1="627.95" x2="138.4" y2="627.95" stroke="#111" stroke-width="1.4"/>
<text x="126.5" y="631.22" text-anchor="end" font-size="11.70px" fill="#000000" stroke="#000000" stroke-width="0.18">Plant C</text>
<line x1="134.2" y1="643.06" x2="138.4" y2="643.06" stroke="#111" stroke-width="1.4"/>
<text x="126.5" y="646.35" text-anchor="end" font-size="11.70px" fill="#000000" stroke="#000000" stroke-width="0.18">Plant N</text>
<line x1="134.2" y1="658.17" x2="138.4" y2="658.17" stroke="#111" stroke-width="1.4"/>
<text x="126.5" y="661.48" text-anchor="end" font-size="11.70px" fill="#000000" stroke="#000000" stroke-width="0.18">Plant P</text>
<line x1="134.2" y1="673.29" x2="138.4" y2="673.29" stroke="#111" stroke-width="1.4"/>
<text x="126.5" y="676.61" text-anchor="end" font-size="11.70px" fill="#000000" stroke="#000000" stroke-width="0.18">Crop yield</text>
<line x1="134.2" y1="688.40" x2="138.4" y2="688.40" stroke="#111" stroke-width="1.4"/>
<text x="126.5" y="691.74" text-anchor="end" font-size="11.70px" fill="#000000" stroke="#000000" stroke-width="0.18">Plant biomass</text>
<line x1="134.2" y1="703.52" x2="138.4" y2="703.52" stroke="#111" stroke-width="1.4"/>
<text x="126.5" y="706.87" text-anchor="end" font-size="11.70px" fill="#000000" stroke="#000000" stroke-width="0.18">Plant diversity</text>
<line x1="134.2" y1="718.63" x2="138.4" y2="718.63" stroke="#111" stroke-width="1.4"/>
<text x="126.5" y="722.00" text-anchor="end" font-size="11.70px" fill="#000000" stroke="#000000" stroke-width="0.18">Fauna biomass</text>
<line x1="134.2" y1="733.74" x2="138.4" y2="733.74" stroke="#111" stroke-width="1.4"/>
<text x="126.5" y="737.13" text-anchor="end" font-size="11.70px" fill="#000000" stroke="#000000" stroke-width="0.18">Fauna diversity</text>
<line x1="134.2" y1="748.86" x2="138.4" y2="748.86" stroke="#111" stroke-width="1.4"/>
<text x="126.5" y="752.26" text-anchor="end" font-size="11.70px" fill="#000000" stroke="#000000" stroke-width="0.18">Microbial biomass</text>
<line x1="134.2" y1="763.97" x2="138.4" y2="763.97" stroke="#111" stroke-width="1.4"/>
<text x="126.5" y="767.39" text-anchor="end" font-size="11.70px" fill="#000000" stroke="#000000" stroke-width="0.18">Microbial diversity</text>
<line x1="134.2" y1="779.09" x2="138.4" y2="779.09" stroke="#111" stroke-width="1.4"/>
<text x="126.5" y="782.52" text-anchor="end" font-size="11.70px" fill="#000000" stroke="#000000" stroke-width="0.18">Mycorrhizal colonization</text>
<line x1="134.2" y1="794.20" x2="138.4" y2="794.20" stroke="#111" stroke-width="1.4"/>
<text x="126.5" y="797.65" text-anchor="end" font-size="11.70px" fill="#000000" stroke="#000000" stroke-width="0.18" font-weight="bold">Asscoiated biota</text>
<line x1="289.6" y1="803.2" x2="289.6" y2="806.9" stroke="#222" stroke-width="1.3"/>
<text x="289.6" y="818" text-anchor="middle" font-size="10.7px" fill="#4D4D4D">0</text>
<line x1="453.9" y1="803.2" x2="453.9" y2="806.9" stroke="#222" stroke-width="1.3"/>
<text x="453.9" y="818" text-anchor="middle" font-size="10.7px" fill="#4D4D4D">1</text>
<line x1="618.2" y1="803.2" x2="618.2" y2="806.9" stroke="#222" stroke-width="1.3"/>
<text x="618.2" y="818" text-anchor="middle" font-size="10.7px" fill="#4D4D4D">2</text>
<text x="410.3" y="834.6" text-anchor="middle" font-size="14.35px" fill="#1A1A1A">Effect size of soil engineering (LnRR)</text>
</svg></body></html>
